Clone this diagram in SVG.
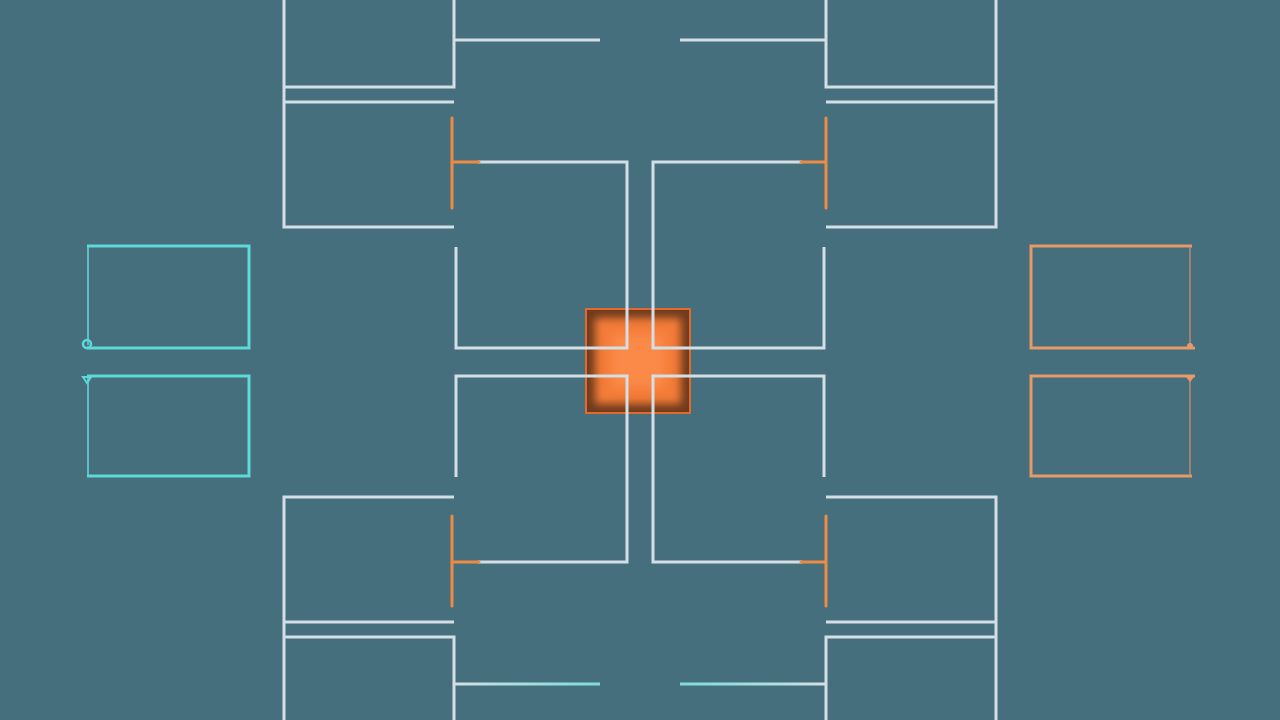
<svg xmlns="http://www.w3.org/2000/svg" width="1280" height="720" viewBox="0 0 1280 720">
<defs>
<style>
.w{fill:none;stroke:#d3dfe5;stroke-width:3;stroke-linecap:butt;stroke-linejoin:miter}
.o{fill:none;stroke:#ef8a44;stroke-width:3;stroke-linecap:round}
.c{fill:none;stroke:#5fd8d8;stroke-width:3}
.ct{fill:none;stroke:#5fd8d8;stroke-width:1.5}
.p{fill:none;stroke:#e69a68;stroke-width:3}
.pt{fill:none;stroke:#d89070;stroke-width:1.2}
</style>
<linearGradient id="gl" gradientUnits="userSpaceOnUse" x1="454" y1="0" x2="600" y2="0">
<stop offset="0" stop-color="#d3dfe5"/><stop offset="1" stop-color="#7ddcdc"/>
</linearGradient>
<linearGradient id="gr" gradientUnits="userSpaceOnUse" x1="680" y1="0" x2="826" y2="0">
<stop offset="0" stop-color="#7ddcdc"/><stop offset="1" stop-color="#d3dfe5"/>
</linearGradient>
<filter id="blur" x="-20%" y="-20%" width="140%" height="140%">
<feGaussianBlur stdDeviation="4.5"/>
</filter>
<clipPath id="sqclip"><rect x="586" y="309" width="104" height="104"/></clipPath>
</defs>
<rect width="1280" height="720" fill="#456f7c"/>

<g id="center">
<rect x="586" y="309" width="104" height="104" fill="#6e3a1d"/>
<g clip-path="url(#sqclip)">
<rect x="595" y="318" width="86" height="86" fill="#f47b38" filter="url(#blur)"/>
<rect x="612" y="335" width="52" height="52" fill="#fb8a48" filter="url(#blur)"/>
</g>
<rect x="586" y="309" width="104" height="104" fill="none" stroke="#e4692e" stroke-width="2"/>
</g>

<g id="top-left">
<path class="w" d="M284,0 V227 H454"/>
<path class="w" d="M454,0 V87 H284"/>
<path class="w" d="M284,102 H454"/>
</g>
<g id="top-right">
<path class="w" d="M996,0 V227 H826"/>
<path class="w" d="M826,0 V87 H996"/>
<path class="w" d="M996,102 H826"/>
</g>
<g id="bottom-left">
<path class="w" d="M454,497 H284 V720"/>
<path class="w" d="M284,622 H454"/>
<path class="w" d="M284,637 H454 V720"/>
</g>
<g id="bottom-right">
<path class="w" d="M826,497 H996 V720"/>
<path class="w" d="M996,622 H826"/>
<path class="w" d="M996,637 H826 V720"/>
</g>

<g id="cyan-boxes">
<path class="c" d="M87,246 H249 V348 H87"/>
<path class="ct" d="M88,246 V345"/>
<circle cx="87" cy="344" r="4" fill="none" stroke="#5fd8d8" stroke-width="2.5"/>
<path class="c" d="M87,376 H249 V476 H87"/>
<path class="ct" d="M88,378 V476"/>
<path d="M83,377 h8 l-4,6 z" fill="none" stroke="#5fd8d8" stroke-width="2"/>
</g>
<g id="orange-boxes">
<path class="p" d="M1192,246 H1031 V348 H1195"/>
<path class="pt" d="M1190,246 V346"/>
<circle cx="1190" cy="346" r="3" fill="#e69a68"/>
<path class="p" d="M1195,376 H1031 V476 H1192"/>
<path class="pt" d="M1190,378 V476"/>
<path d="M1186,377 h8 l-4,5 z" fill="#e69a68"/>
</g>

<g id="connectors">
<path class="w" d="M454,40 H600"/>
<path class="w" d="M826,40 H680"/>
<path fill="none" stroke="url(#gl)" stroke-width="3" d="M454,684 H600"/>
<path fill="none" stroke="url(#gr)" stroke-width="3" d="M680,684 H826"/>

<path class="w" d="M456,247 V348 H627 V162 H478"/>
<path class="w" d="M824,247 V348 H653 V162 H802"/>
<path class="w" d="M456,477 V376 H627 V562 H478"/>
<path class="w" d="M824,477 V376 H653 V562 H802"/>

<path class="o" d="M452,118 V208 M452,162 H479"/>
<path class="o" d="M826,118 V208 M826,162 H801"/>
<path class="o" d="M452,516 V606 M452,562 H479"/>
<path class="o" d="M826,516 V606 M826,562 H801"/>
</g>
</svg>
